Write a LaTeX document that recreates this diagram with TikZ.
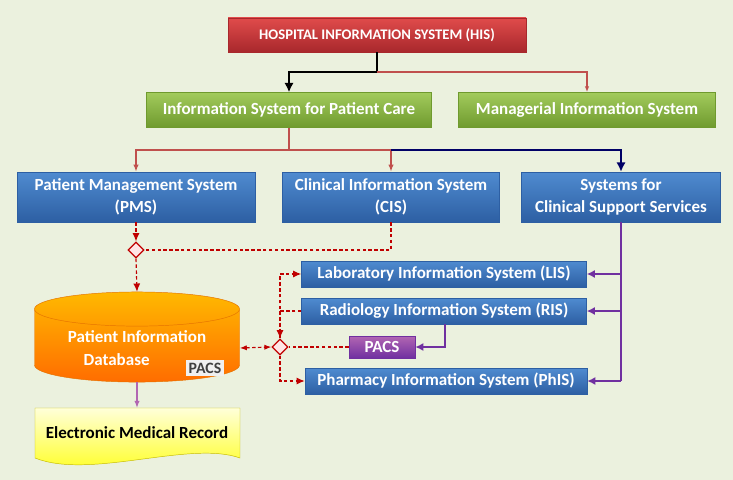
\documentclass[tikz,border=0pt]{standalone}
\usepackage{fontspec}
\setmainfont{Carlito}
\usetikzlibrary{positioning,shapes.geometric,arrows.meta}
\definecolor{bgc}{HTML}{EBF1DE}
\definecolor{bluet}{HTML}{4F8BD0}
\definecolor{blueb}{HTML}{2D5FA3}
\definecolor{greent}{HTML}{A2CB5C}
\definecolor{greenb}{HTML}{6F9A2E}
\definecolor{redt}{HTML}{E04B4B}
\definecolor{redb}{HTML}{A8282C}
\definecolor{linkred}{HTML}{C0504D}
\definecolor{flowred}{HTML}{C00000}
\definecolor{suppv}{HTML}{7030A0}
\begin{document}
\begin{tikzpicture}[x=0.03cm, y=-0.03cm,
    every node/.style={font=\bfseries},
    box/.style={rectangle, draw=#1, text=white, inner sep=2pt, align=center},
    redbox/.style={box=redb, top color=redt, bottom color=redb, minimum width=298*0.03cm, minimum height=34*0.03cm, font=\bfseries\fontsize{12.5}{14}\selectfont},
    greenbox/.style={box=greenb, top color=greent, bottom color=greenb, minimum height=35*0.03cm, font=\bfseries\fontsize{14.5}{17}\selectfont},
    bluebox/.style={box=blueb, top color=bluet, bottom color=blueb, minimum height=50*0.03cm, font=\bfseries\fontsize{14.5}{19}\selectfont},
    subbox/.style={box=blueb, top color=bluet, bottom color=blueb, minimum width=285*0.03cm, minimum height=26*0.03cm, font=\bfseries\fontsize{14.5}{17}\selectfont},
    dia/.style={diamond, draw=flowred, fill=red!10, line width=1pt, minimum size=16*0.03cm, inner sep=0pt},
    flow/.style={flowred, line width=1pt, dash pattern=on 3pt off 2pt, -{Latex[length=7pt,width=6pt]}},
    supp/.style={suppv, line width=1.6pt, -{Latex[length=7pt,width=7pt]}}
  ]
  \fill[bgc] (0,0) rectangle (733,480);
  \useasboundingbox (0,0) rectangle (733,480);

  % top levels
  \node[redbox] (his) at (377,35) {HOSPITAL INFORMATION SYSTEM (HIS)};
  \node[greenbox, minimum width=285*0.03cm] (ispc) at (289,110) {Information System for Patient Care};
  \node[greenbox, minimum width=257*0.03cm] (mis) at (587,110) {Managerial Information System};
  \node[bluebox, minimum width=238*0.03cm] (pms) at (136,197) {Patient Management System\\(PMS)};
  \node[bluebox, minimum width=217*0.03cm] (cis) at (391,197) {Clinical Information System\\(CIS)};
  \node[bluebox, minimum width=199*0.03cm] (scss) at (621,197) {Systems for\\Clinical Support Services};

  % support systems
  \node[subbox] (lis) at (444,274) {Laboratory Information System (LIS)};
  \node[subbox] (ris) at (444,311) {Radiology Information System (RIS)};
  \node[subbox, minimum width=282*0.03cm] (phis) at (446,381) {Pharmacy Information System (PhIS)};
  \node[box=suppv, top color=violet!60!white, bottom color=suppv, minimum width=66*0.03cm, minimum height=22*0.03cm, font=\bfseries\fontsize{14.5}{17}\selectfont] (pacs) at (382,347) {PACS};

  % database and record
  \node[cylinder, shape border rotate=90, aspect=0.22, draw=orange!90!black, top color=orange!55!yellow, bottom color=orange!85!red, minimum width=205*0.03cm, minimum height=80*0.03cm, text=white, font=\bfseries\fontsize{14.5}{20}\selectfont, align=center] (db) at (137,348) {Patient Information\\\hspace*{1.2em}Database\hspace*{3.6em}};
  \node[fill=gray!12, text=black!75, font=\bfseries\fontsize{13.5}{15}\selectfont, inner sep=2pt] (dbpacs) at (205,368) {PACS};
  \shade[top color=yellow!15, bottom color=yellow!95!white, draw=yellow!50!olive] (35,408) -- (240,408) -- (240,458) .. controls (190,440) and (90,480) .. (35,458) -- cycle;
  \node[font=\bfseries\fontsize{14.5}{17}\selectfont] (emr) at (137,433) {Electronic Medical Record};

  \node[dia] (d1) at (136,250) {};
  \node[dia] (d2) at (280,347) {};
  \coordinate (rj) at (280,311);
  \coordinate (rp) at (445,347);

  % hierarchy
  \draw[black, line width=2.2pt, -{Latex[length=8pt,width=8pt]}] (his.south) |- (289,72) -- (ispc.north);
  \draw[linkred, line width=1pt, -{Latex[length=5pt]}] (377,72) -| (mis.north);
  \draw[linkred, line width=1.3pt, -{Latex[length=6pt]}] (ispc.south) |- (136,150) -- (pms.north);
  \draw[linkred, line width=1.3pt, -{Latex[length=6pt]}] (289,150) -| (cis.north);
  \draw[blue!40!black, line width=2pt, -{Latex[length=8pt,width=8pt]}] (391,150) -| (scss.north);

  % data flows
  \draw[flow] (pms.south) -- (d1.north);
  \draw[flow] (d1.south) -- (db.top);
  \draw[flow, -] (cis.south) |- (d1.east);
  \draw[flow, {Latex[length=6pt]}-{Latex[length=6pt]}] (db.east) -- (d2.west);
  \draw[flow, -] (pacs.west) -- (d2.east);
  \draw[flow] (d2.north) |- (lis.west);
  \draw[flow, -] (ris.west) -- (rj);
  \draw[flow] (rj) -- (d2.north);
  \draw[flow] (d2.south) |- (phis.west);

  % support links
  \draw[supp, -] (scss.south) -- (621,381);
  \draw[supp] (621,274) -- (lis.east);
  \draw[supp] (621,311) -- (ris.east);
  \draw[supp] (621,381) -- (phis.east);
  \draw[supp] (ris.south -| rp) -- (rp) -- (pacs.east);
  \draw[violet!60!white, line width=1.2pt, -{Latex[length=6pt]}] (db.bottom) -- (137,408);
\end{tikzpicture}
\end{document}
